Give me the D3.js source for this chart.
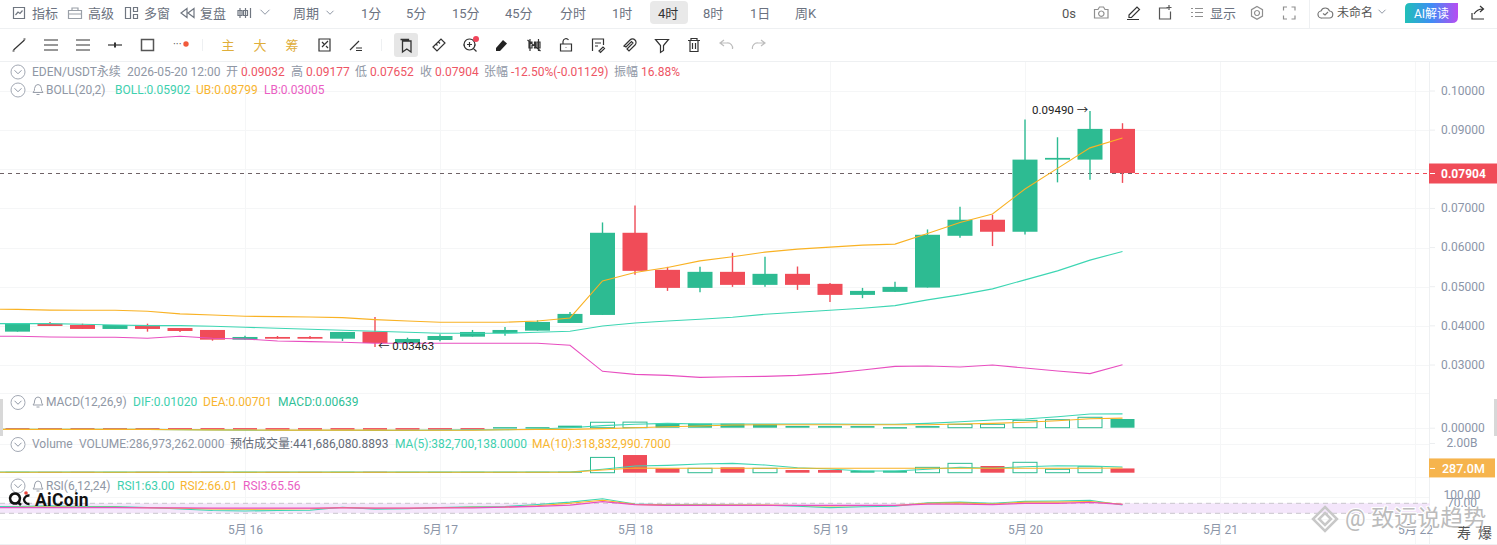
<!DOCTYPE html>
<html>
<head>
<meta charset="utf-8">
<script src="https://cdn.jsdelivr.net/npm/d3@7"></script>
<style>
html, body { margin: 0; padding: 0; background: #fff; overflow: hidden; }
svg { display: block; }
text { font-family: Roboto, "Noto Sans CJK SC", sans-serif; }
</style>
</head>
<body>
<div id="chart"></div>
<script>
// candles, 4h bars, first one sits just off the left edge
const opens = [.03950, .03852, .04056, .04023, .03921, .04023, .03946, .03895, .03647, .03716, .03716, .03672, .03852, .03562, .03639, .03724, .03811, .03877, .04074, .04279, .06378, .05431, .04970, .05380, .05047, .05329, .05073, .04791, .04868, .04978, .06301, .06711, .06404, .08247, .08247, .09032];
const closes = [.04050, .04056, .03997, .03921, .04023, .03921, .03869, .03647, .03716, .03672, .03672, .03844, .03562, .03665, .03741, .03844, .03895, .04100, .04305, .06378, .05405, .04970, .05380, .05047, .05329, .05047, .04791, .04893, .04996, .06327, .06711, .06404, .08247, .08291, .09032, .07904];
const highs = [.04060, .04056, .04100, .04056, .04023, .04056, .03946, .03895, .03749, .03741, .03741, .03844, .04228, .03698, .03785, .03895, .03972, .04143, .04356, .06642, .07077, .05508, .05508, .05866, .05764, .05516, .05098, .04970, .05124, .06463, .07044, .06839, .09271, .08818, .09490, .09177];
const lows = [.03940, .03852, .03997, .03921, .03921, .03852, .03844, .03621, .03647, .03672, .03672, .03613, .03463, .03562, .03606, .03724, .03749, .03877, .04074, .04279, .05303, .04893, .04860, .04996, .04996, .04919, .04612, .04707, .04868, .04978, .06250, .06038, .06335, .07666, .07735, .07652];

const bollUb = [.04425, .04420, .04403, .04399, .04399, .04374, .04305, .04279, .04246, .04236, .04228, .04210, .04159, .04125, .04092, .04092, .04092, .04125, .04202, .05149, .05362, .05490, .05661, .05764, .05884, .05961, .06012, .06063, .06089, .06360, .06642, .06857, .07497, .08024, .08547, .08799];
const bollMid = [.04056, .04056, .04056, .04041, .04023, .04005, .04005, .03990, .03964, .03939, .03913, .03887, .03862, .03836, .03811, .03811, .03811, .03836, .03862, .03997, .04074, .04125, .04169, .04220, .04297, .04348, .04399, .04451, .04517, .04663, .04791, .04945, .05175, .05405, .05679, .05902];
const bollLb = [.03734, .03734, .03716, .03708, .03708, .03683, .03734, .03683, .03665, .03613, .03596, .03580, .03555, .03555, .03555, .03555, .03555, .03555, .03503, .02838, .02761, .02735, .02684, .02700, .02710, .02735, .02787, .02871, .02966, .02973, .02948, .02999, .02922, .02845, .02781, .03005];

const macdBars = [-.0012, -.0012, -.0012, -.0012, -.0012, -.0012, -.0012, -.0012, -.0012, -.0012, -.0012, -.0012, -.0012, -.0012, -.0012, -.0012, .0004, .0004, .0015, .0040, .0041, .0032, .0031, .0030, .0027, .0013, .0012, .0012, .0004, .0012, .0025, .0025, .0054, .0059, .00765, .00639];
const macdDif = [-.0012, -.0012, -.0012, -.0012, -.0012, -.0012, -.0014, -.0016, -.0018, -.0019, -.0019, -.0019, -.0020, -.0020, -.0018, -.0016, -.0015, -.0010, .0000, .0015, .0025, .0032, .0027, .0027, .0027, .0027, .0027, .0025, .0025, .0032, .0044, .0057, .0064, .0081, .0101, .0102];
const macdDea = [-.0012, -.0012, -.0012, -.0012, -.0012, -.0012, -.0015, -.0016, -.0017, -.0018, -.0018, -.0018, -.0018, -.0019, -.0019, -.0019, -.0015, -.0012, -.0012, -.0007, .0000, .0007, .0012, .0020, .0022, .0022, .0022, .0022, .0022, .0022, .0027, .0032, .0040, .0051, .0066, .00701];

const volumes = [60e6, 60e6, 55e6, 60e6, 55e6, 60e6, 55e6, 60e6, 55e6, 55e6, 55e6, 60e6, 65e6, 55e6, 55e6, 60e6, 55e6, 60e6, 65e6, 1030e6, 1190e6, 295e6, 295e6, 360e6, 295e6, 180e6, 180e6, 135e6, 135e6, 360e6, 630e6, 450e6, 700e6, 230e6, 400e6, 286973262];
const volMa5 = [40e6, 40e6, 40e6, 40e6, 40e6, 40e6, 40e6, 40e6, 40e6, 40e6, 40e6, 40e6, 40e6, 40e6, 40e6, 40e6, 40e6, 40e6, 45e6, 228e6, 449e6, 496e6, 583e6, 630e6, 516e6, 335e6, 248e6, 114e6, 114e6, 228e6, 362e6, 295e6, 402e6, 469e6, 449e6, 382700138];
const volMa10 = [35e6, 35e6, 35e6, 35e6, 35e6, 35e6, 35e6, 35e6, 35e6, 35e6, 35e6, 35e6, 35e6, 35e6, 35e6, 35e6, 35e6, 35e6, 35e6, 181e6, 315e6, 300e6, 300e6, 300e6, 300e6, 295e6, 295e6, 295e6, 295e6, 295e6, 295e6, 295e6, 300e6, 300e6, 300e6, 318832991];

const rsi1 = [55.9, 57.4, 59.8, 57.4, 57.4, 52.9, 46.9, 40.9, 39.4, 40.9, 42.4, 54.4, 46.9, 48.4, 52.9, 55.9, 57.4, 64.9, 74.8, 88, 67, 64, 64, 62.8, 61.9, 58, 52.9, 55.9, 58, 71.8, 74.8, 70, 77.8, 79, 82, 63];
const rsi2 = [53, 54, 55, 54, 54, 52, 50, 47, 46, 47, 48, 53, 50, 50, 52, 54, 55, 60, 70, 82, 65.8, 62.8, 62.8, 62.8, 62.8, 61, 59.8, 61, 61, 70, 71.8, 67, 74.8, 74.8, 76.9, 66.01];
const rsi3 = [53, 53, 53, 53, 53, 52, 52, 51, 51, 51, 51, 52, 51, 51, 52, 52, 55, 58, 62.8, 76.9, 64.9, 61.9, 61.9, 61.9, 61.9, 61.9, 61.9, 61.9, 61.9, 67, 67, 64.9, 70, 70, 73.9, 65.56];

const priceTicks = [.10, .09, .08, .07, .06, .05, .04, .03];
const lastPrice = .07904;
const lastVolume = 286973262;
const dayTicks = [16, 17, 18, 19, 20, 21, 22];

const W = 1497, H = 545, plotRight = 1430;
const green = "#2dbb92", red = "#f04c58", teal = "#3dd6b3", orange = "#f9b224", pink = "#e84fc0";
const gray = "#8f97a5", dark = "#5d6470", axisGray = "#8b95a8", gridColor = "#f5f6f7", lineColor = "#eef0f2";

const times = opens.map((_, i) => new Date(Date.UTC(2026, 4, 14, 16) + i * 4 * 3600e3));
const dayDates = dayTicks.map(d => new Date(Date.UTC(2026, 4, d)));

const x = d3.scaleUtc().domain([dayDates[0], dayDates[6]]).range([245, 1415]);
const y = d3.scaleLinear().domain([.03, .10]).range([365, 91]);
const yMacd = d3.scaleLinear().domain([0, .01]).range([427.7, 414.1]);
const yVol = d3.scaleLinear().domain([0, 2e9]).range([472.7, 443]);
const yRsi = d3.scaleLinear().domain([30, 70]).range([513.3, 503.3]);
const yRsiLabel = d3.scaleLinear().domain([70, 100]).range([502.3, 495]);
const lastY = Math.round(y(lastPrice)) + .5;

const svg = d3.select("#chart").append("svg").attr("width", W).attr("height", H);

// ---- grid
const grid = svg.append("g").attr("stroke", gridColor).attr("stroke-width", 1);
dayDates.forEach(d => {
    grid.append("line").attr("x1", Math.round(x(d)) + .5).attr("x2", Math.round(x(d)) + .5).attr("y1", 62).attr("y2", 544);
});
priceTicks.forEach(p => {
    grid.append("line").attr("x1", 0).attr("x2", plotRight).attr("y1", Math.round(y(p)) + .5).attr("y2", Math.round(y(p)) + .5);
});
[393, 428, 444, 477, 497, 519].forEach(g => {
    grid.append("line").attr("x1", 0).attr("x2", plotRight).attr("y1", g + .5).attr("y2", g + .5);
});
svg.append("line").attr("x1", plotRight - .5).attr("x2", plotRight - .5).attr("y1", 62).attr("y2", 544).attr("stroke", lineColor);
svg.append("line").attr("x1", 0).attr("x2", W).attr("y1", 544.5).attr("y2", 544.5).attr("stroke", lineColor);
svg.append("line").attr("x1", 0).attr("x2", W).attr("y1", 28.5).attr("y2", 28.5).attr("stroke", lineColor);
svg.append("line").attr("x1", 0).attr("x2", W).attr("y1", 61.5).attr("y2", 61.5).attr("stroke", lineColor);

// ---- last price dashed line
svg.append("line").attr("x1", 1135).attr("x2", plotRight).attr("y1", lastY).attr("y2", lastY)
    .attr("stroke", red).attr("stroke-dasharray", "4 4").attr("stroke-width", 1);
svg.append("line").attr("x1", 0).attr("x2", 1135).attr("y1", lastY).attr("y2", lastY)
    .attr("stroke", "#6e6266").attr("stroke-dasharray", "4 4").attr("stroke-width", 1);

// ---- candles
const candles = svg.append("g").selectAll("g").data(times).enter().append("g");
candles.append("line")
    .attr("x1", d => x(d)).attr("x2", d => x(d))
    .attr("y1", (d, i) => y(highs[i])).attr("y2", (d, i) => y(lows[i]))
    .attr("stroke", (d, i) => closes[i] >= opens[i] ? green : red).attr("stroke-width", 1.4);
candles.append("rect")
    .attr("x", d => x(d) - 12.5).attr("width", 25)
    .attr("y", (d, i) => y(Math.max(opens[i], closes[i])))
    .attr("height", (d, i) => Math.max(1.6, Math.abs(y(opens[i]) - y(closes[i]))))
    .attr("fill", (d, i) => closes[i] >= opens[i] ? green : red);

function drawLine(values, sx, color, sw) {
    svg.append("path")
        .attr("d", d3.line().x((d, i) => x(times[i])).y(d => sx(d))(values))
        .attr("fill", "none").attr("stroke", color).attr("stroke-width", sw || 1.1);
}
drawLine(bollMid, y, teal);
drawLine(bollLb, y, pink);
drawLine(bollUb, y, orange);

// high / low notes
txt(1032, 114, "0.09490 →", "#222", 11.5);
txt(378, 350, "← 0.03463", "#222", 11.5);

// ---- macd
svg.append("g").selectAll("rect").data(macdBars).enter().append("rect")
    .attr("x", (d, i) => x(times[i]) - 12).attr("width", 24)
    .attr("y", d => d >= 0 ? yMacd(d) : yMacd(0) + .4)
    .attr("height", d => Math.max(1.4, Math.abs(yMacd(d) - yMacd(0))))
    .attr("fill", (d, i) => d < 0 ? red : (i > 0 && d >= macdBars[i - 1] && d >= .002 ? "#fff" : green))
    .attr("stroke", (d, i) => d >= 0 && i > 0 && d >= macdBars[i - 1] && d >= .002 ? green : "none");
drawLine(macdDif, yMacd, teal);
drawLine(macdDea, yMacd, orange);

// ---- volume
svg.append("g").selectAll("rect").data(volumes).enter().append("rect")
    .attr("x", (d, i) => x(times[i]) - 12).attr("width", 24)
    .attr("y", d => yVol(d))
    .attr("height", d => Math.max(1, yVol(0) - yVol(d)))
    .attr("fill", (d, i) => closes[i] < opens[i] ? red : (d > 2e8 ? "#fff" : green))
    .attr("stroke", (d, i) => closes[i] >= opens[i] && d > 2e8 ? green : "none");
drawLine(volMa5, yVol, teal);
drawLine(volMa10, yVol, orange);

// ---- rsi
svg.append("rect").attr("x", 0).attr("width", plotRight).attr("y", yRsi(70)).attr("height", yRsi(30) - yRsi(70)).attr("fill", "#f4e6fb");
[70, 30].forEach(v => {
    svg.append("line").attr("x1", 0).attr("x2", plotRight).attr("y1", yRsi(v)).attr("y2", yRsi(v))
        .attr("stroke", "#c9c5cc").attr("stroke-dasharray", "5 4");
});
drawLine(rsi1, yRsi, teal);
drawLine(rsi2, yRsi, orange);
drawLine(rsi3, yRsi, pink, 1.3);

// ---- axes
function styleAxis(g) {
    g.select(".domain").remove();
    g.selectAll(".tick line").attr("stroke", "#eceef0");
    g.selectAll(".tick text").attr("fill", axisGray).style("font-size", "12px").style("font-family", 'Roboto, "Noto Sans CJK SC", sans-serif');
}
function centerLabels(g) {
    g.selectAll(".tick text").attr("x", 32).attr("text-anchor", "middle");
}
// the label that would sit under the last price box is left out, as on the real chart
svg.append("g").attr("transform", `translate(${plotRight},-.5)`)
    .call(d3.axisRight(y).tickValues(priceTicks.filter(p => Math.abs(y(p) - y(lastPrice)) > 12)).tickFormat(d3.format(".5f")).tickSize(5).tickPadding(6)).call(styleAxis);
svg.append("g").attr("transform", `translate(${plotRight},0)`)
    .call(d3.axisRight(yMacd).tickValues([0]).tickFormat(d3.format(".5f")).tickSize(5).tickPadding(6)).call(styleAxis);
svg.append("g").attr("transform", `translate(${plotRight},0)`)
    .call(d3.axisRight(yVol).tickValues([2e9]).tickFormat(d => (d / 1e9).toFixed(2) + "B").tickSize(5)).call(styleAxis).call(centerLabels);
svg.append("g").attr("transform", `translate(${plotRight},0)`)
    .call(d3.axisRight(yRsiLabel).tickValues([100, 70]).tickFormat(d3.format(".2f")).tickSize(0)).call(styleAxis).call(centerLabels);
svg.append("g").attr("transform", "translate(0,519)")
    .call(d3.axisBottom(x).tickValues(dayDates).tickFormat(d => "5月 " + d.getUTCDate()).tickSize(0).tickPadding(6)).call(styleAxis);

// last value boxes
svg.append("rect").attr("x", 1429).attr("y", lastY - 10).attr("width", 68).attr("height", 20).attr("fill", red);
svg.append("line").attr("x1", 1430).attr("x2", 1435).attr("y1", lastY).attr("y2", lastY).attr("stroke", "#fff");
txt(1441, lastY + 4.2, d3.format(".5f")(lastPrice), "#fff", 12, "bold");
svg.append("rect").attr("x", 1429).attr("y", yVol(lastVolume) - 10).attr("width", 66).attr("height", 19).attr("fill", "#f6b44d");
svg.append("line").attr("x1", 1430).attr("x2", 1435).attr("y1", yVol(lastVolume)).attr("y2", yVol(lastVolume)).attr("stroke", "#fff");
txt(1442, yVol(lastVolume) + 4.2, (lastVolume / 1e6).toFixed(1) + "M", "#fff", 12.5, "500");

// side handles
svg.append("rect").attr("x", 0).attr("y", 399).attr("width", 3).attr("height", 37).attr("fill", "#d8d8d8");
svg.append("rect").attr("x", 1494).attr("y", 399).attr("width", 3).attr("height", 37).attr("fill", "#d8d8d8");

// ---- text helpers
function txt(px, py, s, color, size, weight, anchor) {
    return svg.append("text").attr("x", px).attr("y", py).text(s)
        .attr("fill", color).style("font-size", (size || 12) + "px")
        .style("font-weight", weight || "normal").attr("text-anchor", anchor || "start");
}
function icon(d, color, sw) {
    return svg.append("path").attr("d", d).attr("fill", "none").attr("stroke", color || "#333").attr("stroke-width", sw || 1.2);
}
function chevron(cx, cy, r, color) { icon(`M${cx - r} ${cy - r / 2}L${cx} ${cy + r / 2}L${cx + r} ${cy - r / 2}`, color || gray, 1); }
function circleBtn(cy) {
    svg.append("circle").attr("cx", 18).attr("cy", cy).attr("r", 7).attr("fill", "#fff").attr("stroke", "#a3a9b4");
    chevron(18, cy, 3.5, "#8f97a5");
}
function bell(cx, cy) {
    icon(`M${cx - 5} ${cy + 3}Q${cx - 3} ${cy + 1} ${cx - 3.5} ${cy - 1}Q${cx - 3} ${cy - 5} ${cx} ${cy - 5}Q${cx + 3} ${cy - 5} ${cx + 3.5} ${cy - 1}Q${cx + 3} ${cy + 1} ${cx + 5} ${cy + 3}ZM${cx - 1.5} ${cy + 5}H${cx + 1.5}`, "#9aa0ab", 1);
}

// ---- top toolbar
svg.append("rect").attr("x", 650).attr("y", 1).attr("width", 38).attr("height", 23).attr("rx", 4).attr("fill", "#e9e9e9");
const tc = "#6b7280", tfs = 13, ty = 17.5;
icon("M13.5 7.5h11v11h-11zM15.5 15l2.5-3 2 1.5 2.5-3", "#6f7680");
txt(32, ty, "指标", tc, tfs);
icon("M68.5 10.5h13v8h-13zM72 10.5v-2.5h6v2.5M68.5 14h13", "#9aa0a8");
txt(88, ty, "高级", tc, tfs);
icon("M125.5 7.5h5v11h-5zM133.5 7.5h4v4h-4zM133.5 14.5h4v4h-4z", "#6f7680");
txt(144, ty, "多窗", tc, tfs);
icon("M187 8.5l-6 4.5 6 4.5zM194 8.5l-6 4.5 6 4.5z", "#6f7680");
txt(200, ty, "复盘", tc, tfs);
icon("M240 8v10M240 10.5h-2v5h2M240 10.5h2v5h-2M245.5 8v10M245.5 10.5h-2v5h2M245.5 10.5h2v5h-2M250.5 8v10", "#6f7680");
chevron(265, 12, 4.5);
txt(293, ty, "周期", tc, tfs);
chevron(330, 12.5, 3.5);
[[361, "1分"], [406, "5分"], [452, "15分"], [505, "45分"], [560, "分时"], [612, "1时"], [703, "8时"], [750, "1日"], [795, "周K"]]
    .forEach(b => txt(b[0], ty, b[1], tc, tfs));
txt(658, ty, "4时", "#333", tfs);

txt(1062, ty, "0s", "#555", tfs);
icon("M1094.5 9.5h3.5l1.5-2.5h4l1.5 2.5h3v8.5h-13.5zM1101.3 11a2.7 2.7 0 1 0 .01 0", "#8f8f8f");
icon("M1129 15l8-8 2.5 2.5-8 8h-2.5zM1127 19.5h12", "#333");
icon("M1168 8h-8.5v11h11v-7.5M1169 5v5M1166.5 7.5h5", "#555");
icon("M1191 8.5h2M1191 12.5h2M1191 16.5h2M1195 8.5h8M1195 12.5h8M1195 16.5h8", "#8f8f8f");
txt(1210, ty, "显示", tc, tfs);
icon("M1257 6.5l5.5 3.2v6.4l-5.5 3.2-5.5-3.2v-6.4zM1257 10.5a2.5 2.5 0 1 0 .01 0", "#8f8f8f");
icon("M1283.5 10.5v-3.5h3.5M1291.5 7h3.5v3.5M1295 15.5v3.5h-3.5M1287 19h-3.5v-3.5", "#8f8f8f");
svg.append("line").attr("x1", 1309.5).attr("x2", 1309.5).attr("y1", 0).attr("y2", 28).attr("stroke", lineColor);
icon("M1322 18h7a3.5 3.5 0 0 0 .5-7 4.5 4.5 0 0 0-8.5 0 3.5 3.5 0 0 0 1 7zM1323 13.5l2 1.5 3-3", "#777");
txt(1337, 17, "未命名", "#555", 12);
chevron(1382, 11.5, 3.5);

const aiGrad = svg.append("defs").append("linearGradient").attr("id", "aiGrad");
aiGrad.append("stop").attr("offset", "0%").attr("stop-color", "#20c0b8");
aiGrad.append("stop").attr("offset", "50%").attr("stop-color", "#3f8cf5");
aiGrad.append("stop").attr("offset", "100%").attr("stop-color", "#b84cf2");
svg.append("path").attr("d", "M1410 3H1458V17Q1458 23 1452 23H1405V8Q1405 3 1410 3Z").attr("fill", "url(#aiGrad)");
txt(1431.5, 17.5, "AI解读", "#fff", 12, "normal", "middle");
icon("M1472 13v6h12M1474 14q3-5 9-5M1480 6l3.5 3-3.5 3", "#333");

// ---- second toolbar
const ib = "#333", iy = 45;
icon(`M13.5 ${iy + 5}L24.5 ${iy - 5}M12.5 ${iy + 6}h2M23.5 ${iy - 6}h2`, ib);
icon(`M44 ${iy - 5}h14M44 ${iy}h14M44 ${iy + 5}h14M50 ${iy - 5}h2`, ib);
icon(`M76 ${iy - 5}h14M76 ${iy}h14M76 ${iy + 5}h14`, ib);
icon(`M108 ${iy}h14`, ib); icon(`M115 ${iy - 2.5}v5`, ib, 2);
icon(`M141.5 ${iy - 5.5}h12v11h-12z`, "#555", 1.5);
txt(173, iy + 3, "···", "#555", 11);
svg.append("circle").attr("cx", 186).attr("cy", iy - 1).attr("r", 2.7).attr("fill", "#f15a3c");
svg.append("line").attr("x1", 202.5).attr("x2", 202.5).attr("y1", 39).attr("y2", 51).attr("stroke", lineColor);
[[228, "主"], [260, "大"], [292, "筹"]].forEach(b => txt(b[0], iy + 4.5, b[1], "#dfae3a", 13, "normal", "middle"));
icon(`M319 ${iy - 6}h11v12h-11zM322 ${iy + 2}l6-6M322 ${iy - 3}l2 2M326 ${iy + 1}l2 2`, ib);
icon(`M350 ${iy + 5}l9-9M356 ${iy + 3}h6M356 ${iy + 5.5}h6`, ib);
svg.append("line").attr("x1", 381.5).attr("x2", 381.5).attr("y1", 39).attr("y2", 51).attr("stroke", lineColor);
svg.append("rect").attr("x", 394).attr("y", 33).attr("width", 24).attr("height", 24).attr("rx", 3).attr("fill", "#e6e6e6");
icon(`M400.5 ${iy - 5.5}h8v1M402.5 ${iy - 4}h8.5v11l-4.2-3-4.3 3z`, ib, 1.3);
icon(`M433 ${iy + 2}l8-8 4 4-8 8zM436 ${iy - 1}l1.5 1.5M438.5 ${iy - 3}l1.5 1.5`, ib);
icon(`M469.5 ${iy - 6}a5.5 5.5 0 1 0 .01 0M473.5 ${iy + 3.5}l3 3M467 ${iy - .5}h5M469.5 ${iy - 3}v5`, ib);
svg.append("circle").attr("cx", 476).attr("cy", 39).attr("r", 3).attr("fill", "#f0455a");
svg.append("path").attr("d", `M496 ${iy + 3}l7-8 4 3.5-7 7.5h-4z`).attr("fill", "#222");
icon(`M529 ${iy - 3}h3v6h-3zM537 ${iy - 3}h3v6h-3zM534.5 ${iy - 3}h1v6h-1zM530 ${iy - 6}v12M538.5 ${iy - 6}v12M527.5 ${iy - 5}l13 11`, ib);
icon(`M560.5 ${iy - 1}h11v7h-11zM563 ${iy - 1}v-2.5a3 3 0 0 1 5.5-1.5M566 ${iy + 2.5}v.5`, ib);
icon(`M592.5 ${iy + 6}v-12h11v6M595 ${iy - 2}h6M595 ${iy + 1}h3M599 ${iy + 6}l4-4 1.5 1.5-4 4z`, ib);
icon(`M624 ${iy + 1}l6-6a3.5 3.5 0 0 1 5 5l-6 6-2-2 6-6-1.5-1.5-5.5 5.5z`, ib);
icon(`M655.5 ${iy - 5.5}h13l-5 6v5l-3 2v-7z`, ib);
icon(`M688 ${iy - 4.5}h12M691 ${iy - 4.5}v-2h6v2M690 ${iy - 4.5}v11h8v-11M692.5 ${iy - 2}v6M695.5 ${iy - 2}v6`, ib);
icon(`M724 ${iy - 5}l-4 3 4 3M720 ${iy - 2}h7a5 5 0 0 1 5.5 6`, "#bdbdbd");
icon(`M761 ${iy - 5}l4 3-4 3M765 ${iy - 2}h-7a5 5 0 0 0-5.5 6`, "#bdbdbd");

// ---- legends
circleBtn(72);
txt(32, 76, "EDEN/USDT永续", gray);
txt(127, 76, "2026-05-20 12:00", gray);
const lr = "#ee5564";
[[226, "开", "0.09032"], [291, "高", "0.09177"], [355, "低", "0.07652"], [420, "收", "0.07904"]].forEach(b => {
    txt(b[0], 76, b[1], gray);
    txt(b[0] + 15, 76, b[2], lr);
});
txt(484, 76, "张幅", gray);
txt(511, 76, "-12.50%(-0.01129)", lr);
txt(614, 76, "振幅", gray);
txt(641, 76, "16.88%", lr);

circleBtn(90);
bell(38, 89.5);
txt(46, 94, "BOLL(20,2)", gray);
txt(115, 94, "BOLL:0.05902", "#3ed0ae");
txt(196, 94, "UB:0.08799", "#f8b52f");
txt(264, 94, "LB:0.03005", "#ea5ec3");

circleBtn(402.5);
bell(38, 402);
txt(46, 406, "MACD(12,26,9)", gray);
txt(133, 406, "DIF:0.01020", "#3ed0ae");
txt(203, 406, "DEA:0.00701", "#f8b52f");
txt(278, 406, "MACD:0.00639", "#2fbf97");

circleBtn(444.5);
txt(32, 448, "Volume", gray);
txt(79, 448, "VOLUME:286,973,262.0000", gray);
txt(230, 448, "预估成交量:441,686,080.8893", "#666c78");
txt(395, 448, "MA(5):382,700,138.0000", "#3ed0ae");
txt(532, 448, "MA(10):318,832,990.7000", "#f8b52f");

circleBtn(486);
bell(38, 486);
txt(46, 490, "RSI(6,12,24)", gray);
txt(117, 490, "RSI1:63.00", "#3ed0ae");
txt(180, 490, "RSI2:66.01", "#f8b52f");
txt(243, 490, "RSI3:65.56", "#ea5ec3");

// ---- logo and watermark
icon("M15 493.5a5 5 0 1 0 .01 0M17.5 502l3.5 3", "#111", 2.6);
icon("M29.5 495.5a5 5 0 0 0-5.5 4 5 5 0 0 0 5.5 4.5", "#111", 2.4);
svg.append("circle").attr("cx", 26).attr("cy", 493).attr("r", 1.8).attr("fill", "#e8453c");
txt(35, 506, "AiCoin", "#111", 17.5, "bold").attr("letter-spacing", ".3");

const wm = svg.append("g");
wm.append("path").attr("d", "M1325 507l12 12-12 12-12-12zM1325 513l6 6-6 6-6-6z")
    .attr("fill", "none").attr("stroke", "#c8c8c8").attr("stroke-width", 2.5);
wm.append("text").attr("x", 1345).attr("y", 526).text("@ 致远说趋势")
    .attr("fill", "#bcbcbc").attr("stroke", "#fff").attr("stroke-width", 2.2).attr("paint-order", "stroke")
    .style("font-size", "23px");
txt(1457, 538, "寿", "#555", 14);
txt(1478, 538, "爆", "#555", 14);
</script>
</body>
</html>
